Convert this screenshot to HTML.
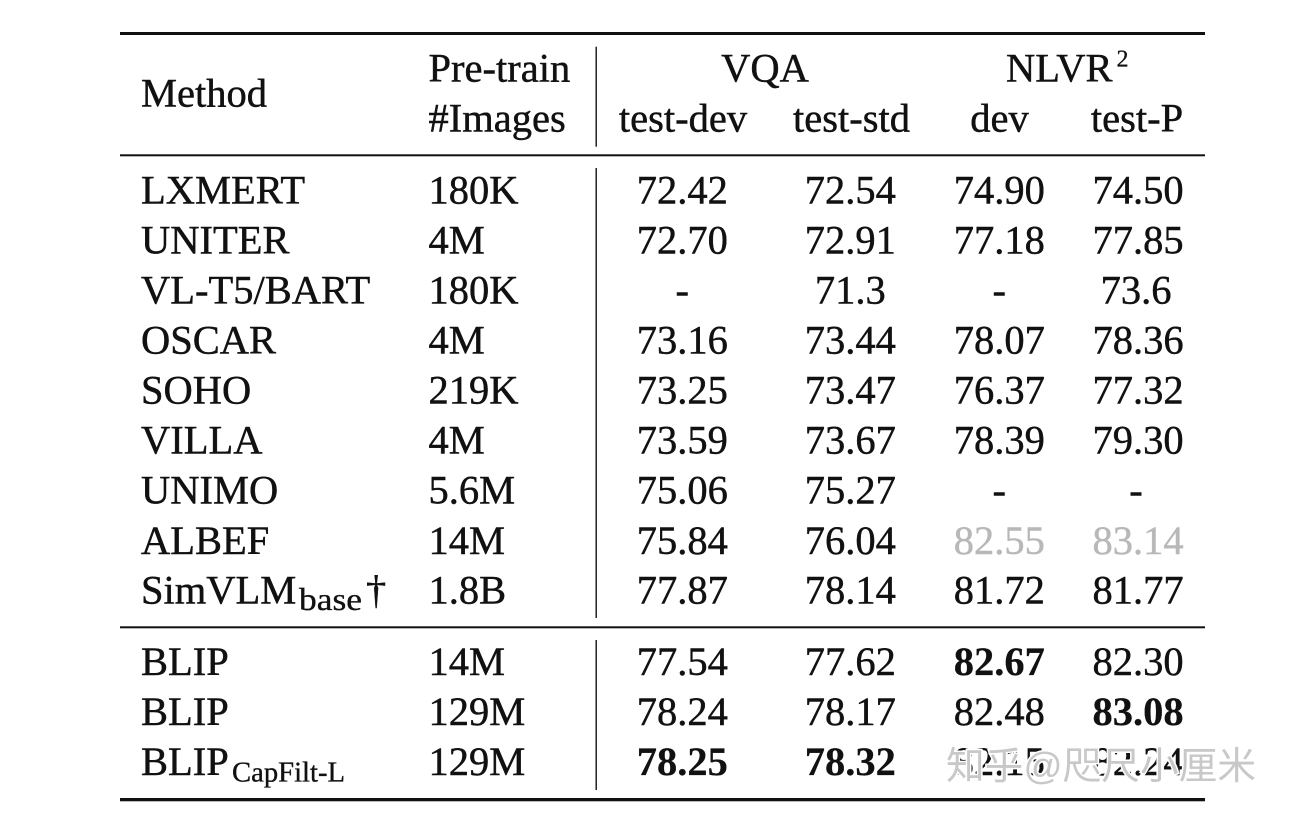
<!DOCTYPE html>
<html>
<head>
<meta charset="utf-8">
<style>
  html,body{margin:0;padding:0;background:#fff;}
  body{width:1290px;height:818px;overflow:hidden;}
  svg{display:block;}
  text{font-family:"Liberation Serif","Noto Serif CJK SC",serif;font-size:40.5px;fill:#111;stroke:#111;stroke-width:0.45px;}
  .m{text-anchor:middle;}
  .b{font-weight:bold;stroke-width:0.2px;}
  .g{fill:#b8b8b8;stroke:#b8b8b8;}
  .wm{font-family:"Liberation Sans","Noto Sans CJK SC",sans-serif;font-size:38px;fill:#c8c8c8;stroke:#fff;stroke-width:3px;paint-order:stroke;}
</style>
</head>
<body>
<svg width="1290" height="818" viewBox="0 0 1290 818" xmlns="http://www.w3.org/2000/svg">
  <!-- rules -->
  <rect x="120" y="32" width="1085" height="3" fill="#111"/>
  <rect x="120" y="154.3" width="1085" height="2" fill="#111"/>
  <rect x="120" y="626.3" width="1085" height="2" fill="#111"/>
  <rect x="120" y="798" width="1085" height="3.3" fill="#111"/>
  <!-- vertical lines -->
  <rect x="595.5" y="46.7" width="1.4" height="100" fill="#111"/>
  <rect x="595.5" y="168" width="1.4" height="450" fill="#111"/>
  <rect x="595.5" y="640" width="1.4" height="150" fill="#111"/>

  <!-- header -->
  <text x="141" y="106.7">Method</text>
  <text x="428.5" y="81.7">Pre-train</text>
  <text x="428.5" y="131.7">#Images</text>
  <text class="m" x="765" y="81.7">VQA</text>
  <text x="1006" y="81.7">NLVR</text>
  <text x="1116.5" y="66.7" style="font-size:24px;stroke-width:0.3px">2</text>
  <text class="m" x="683" y="131.7">test-dev</text>
  <text class="m" x="851.5" y="131.7">test-std</text>
  <text class="m" x="999.5" y="131.7">dev</text>
  <text class="m" x="1137" y="131.7">test-P</text>

  <!-- body rows -->
  <g>
    <text x="141" y="203.3">LXMERT</text><text x="428.5" y="203.3">180K</text>
    <text class="m" x="682.3" y="203.3">72.42</text><text class="m" x="850.3" y="203.3">72.54</text>
    <text class="m" x="999.3" y="203.3">74.90</text><text class="m" x="1138" y="203.3">74.50</text>

    <text x="141" y="253.3">UNITER</text><text x="428.5" y="253.3">4M</text>
    <text class="m" x="682.3" y="253.3">72.70</text><text class="m" x="850.3" y="253.3">72.91</text>
    <text class="m" x="999.3" y="253.3">77.18</text><text class="m" x="1138" y="253.3">77.85</text>

    <text x="141" y="303.3">VL-T5/BART</text><text x="428.5" y="303.3">180K</text>
    <text class="m" x="682.3" y="303.3">-</text><text class="m" x="850.3" y="303.3">71.3</text>
    <text class="m" x="999.3" y="303.3">-</text><text class="m" x="1136" y="303.3">73.6</text>

    <text x="141" y="353.3">OSCAR</text><text x="428.5" y="353.3">4M</text>
    <text class="m" x="682.3" y="353.3">73.16</text><text class="m" x="850.3" y="353.3">73.44</text>
    <text class="m" x="999.3" y="353.3">78.07</text><text class="m" x="1138" y="353.3">78.36</text>

    <text x="141" y="403.3">SOHO</text><text x="428.5" y="403.3">219K</text>
    <text class="m" x="682.3" y="403.3">73.25</text><text class="m" x="850.3" y="403.3">73.47</text>
    <text class="m" x="999.3" y="403.3">76.37</text><text class="m" x="1138" y="403.3">77.32</text>

    <text x="141" y="453.3">VILLA</text><text x="428.5" y="453.3">4M</text>
    <text class="m" x="682.3" y="453.3">73.59</text><text class="m" x="850.3" y="453.3">73.67</text>
    <text class="m" x="999.3" y="453.3">78.39</text><text class="m" x="1138" y="453.3">79.30</text>

    <text x="141" y="503.3">UNIMO</text><text x="428.5" y="503.3">5.6M</text>
    <text class="m" x="682.3" y="503.3">75.06</text><text class="m" x="850.3" y="503.3">75.27</text>
    <text class="m" x="999.3" y="503.3">-</text><text class="m" x="1136" y="503.3">-</text>

    <text x="141" y="553.8">ALBEF</text><text x="428.5" y="553.8">14M</text>
    <text class="m" x="682.3" y="553.8">75.84</text><text class="m" x="850.3" y="553.8">76.04</text>
    <text class="m g" x="999.3" y="553.8">82.55</text><text class="m g" x="1138" y="553.8">83.14</text>

    <text x="141" y="603.5">SimVLM</text>
    <text x="299" y="610" style="font-size:32px;stroke-width:0.35px" textLength="63" lengthAdjust="spacingAndGlyphs">base</text>
    <text x="366" y="603.5">†</text>
    <text x="428.5" y="603.5">1.8B</text>
    <text class="m" x="682.3" y="603.5">77.87</text><text class="m" x="850.3" y="603.5">78.14</text>
    <text class="m" x="999.3" y="603.5">81.72</text><text class="m" x="1138" y="603.5">81.77</text>
  </g>

  <g>
    <text x="141" y="675">BLIP</text><text x="428.5" y="675">14M</text>
    <text class="m" x="682.3" y="675">77.54</text><text class="m" x="850.3" y="675">77.62</text>
    <text class="m b" x="999.3" y="675">82.67</text><text class="m" x="1138" y="675">82.30</text>

    <text x="141" y="725">BLIP</text><text x="428.5" y="725">129M</text>
    <text class="m" x="682.3" y="725">78.24</text><text class="m" x="850.3" y="725">78.17</text>
    <text class="m" x="999.3" y="725">82.48</text><text class="m b" x="1138" y="725">83.08</text>

    <text x="141" y="775">BLIP</text>
    <text x="232" y="781.7" style="font-size:28.5px;stroke-width:0.35px" textLength="113" lengthAdjust="spacingAndGlyphs">CapFilt-L</text>
    <text x="428.5" y="775">129M</text>
    <text class="m b" x="682.3" y="775">78.25</text><text class="m b" x="850.3" y="775">78.32</text>
    <text class="m" x="999.3" y="775">82.15</text><text class="m" x="1138" y="775">82.24</text>
  </g>

  <!-- watermark -->
  <text class="wm" x="946" y="779" textLength="310" lengthAdjust="spacingAndGlyphs">知乎@咫尺小厘米</text>
</svg>
</body>
</html>
